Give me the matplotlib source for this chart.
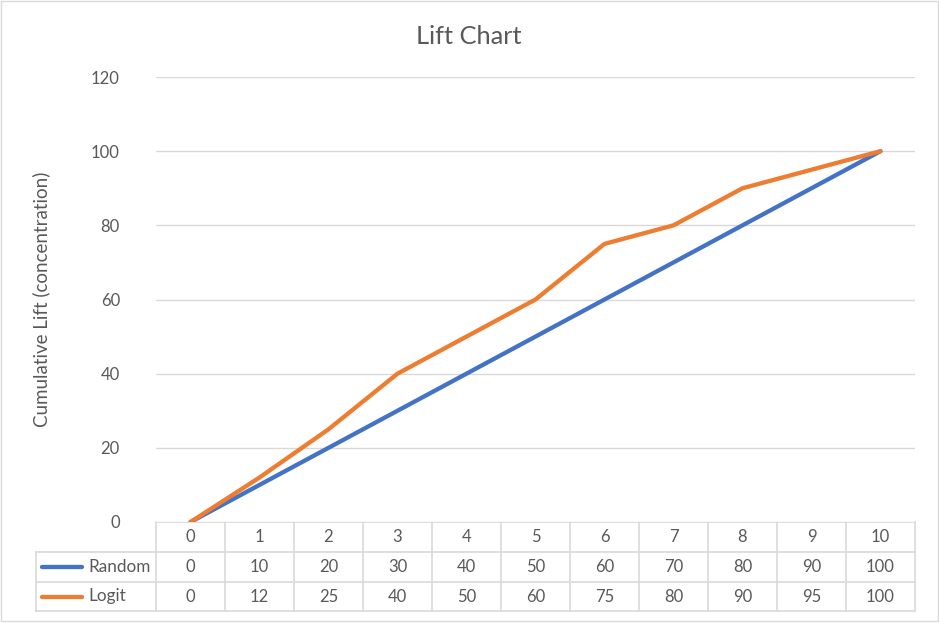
import matplotlib.pyplot as plt
from matplotlib.lines import Line2D

# datos
deciles = [0, 1, 2, 3, 4, 5, 6, 7, 8, 9, 10]
random_lift = [0, 10, 20, 30, 40, 50, 60, 70, 80, 90, 100]
logit_lift = [0, 12, 25, 40, 50, 60, 75, 80, 90, 95, 100]
series_names = ['Random', 'Logit']
y_ticks = [0, 20, 40, 60, 80, 100, 120]

blue = '#4472C4'
orange = '#ED7D31'
txt = '#595959'
grid = '#D9D9D9'

plt.rcParams['font.family'] = ['Lato', 'DejaVu Sans']

W, H = 939, 623
fig = plt.figure(figsize=(W / 100, H / 100), dpi=100)

# area del grafico en pixeles
left, right, top, bottom = 156, 915, 77, 522
ax = fig.add_axes([left / W, 1 - bottom / H, (right - left) / W, (bottom - top) / H])
ax.plot(deciles, random_lift, color=blue, linewidth=3.1, solid_capstyle='round', zorder=3)
ax.plot(deciles, logit_lift, color=orange, linewidth=3.1, solid_capstyle='round', zorder=4)
ax.set_xlim(-0.5, len(deciles) - 0.5)
ax.set_ylim(0, 120)
ax.set_yticks(y_ticks)
ax.set_xticks([])
ax.tick_params(axis='y', length=0, pad=26, labelsize=12, labelcolor=txt)
ax.grid(axis='y', color=grid, linewidth=1)
ax.set_axisbelow(True)
for s in ax.spines.values():
    s.set_visible(False)
ax.set_ylabel('Cumulative Lift (concentration)', fontsize=13.5, color=txt)
ax.yaxis.set_label_coords(-(left - 50) / (right - left), 0.5)

# tabla de datos
tab = fig.add_axes([0, 0, 1, 1], zorder=-1)
tab.set_xlim(0, W)
tab.set_ylim(H, 0)
tab.axis('off')

n = len(deciles)
cw = (right - left) / n
rows = [522, 552, 582, 611]
lab_left = 36

def hline(y, x0, x1):
    tab.add_line(Line2D([x0, x1], [y, y], color=grid, linewidth=1.2))

def vline(x, y0, y1):
    tab.add_line(Line2D([x, x], [y0, y1], color=grid, linewidth=1.2))

hline(rows[0], left, right)
for y in rows[1:]:
    hline(y, lab_left, right)
vline(lab_left, rows[1], rows[3])
for k in range(n + 1):
    vline(left + k * cw, rows[0], rows[3])

for i, d in enumerate(deciles):
    cx = left + (i + 0.5) * cw
    tab.text(cx, (rows[0] + rows[1]) / 2, str(d), ha='center', va='center', fontsize=12, color=txt)
    tab.text(cx, (rows[1] + rows[2]) / 2, str(random_lift[i]), ha='center', va='center', fontsize=12, color=txt)
    tab.text(cx, (rows[2] + rows[3]) / 2, str(logit_lift[i]), ha='center', va='center', fontsize=12, color=txt)

for j, (name, col) in enumerate(zip(series_names, [blue, orange])):
    cy = (rows[j + 1] + rows[j + 2]) / 2
    tab.add_line(Line2D([42, 82], [cy, cy], color=col, linewidth=3.1, solid_capstyle='round'))
    tab.text(88, cy, name, ha='left', va='center', fontsize=12.3, color=txt)

# borde exterior
tab.add_patch(plt.Rectangle((0.5, 0.5), W - 2, H - 3, fill=False, edgecolor='#D9D9D9', linewidth=1))

fig.text(469 / W, 1 - 37 / H, 'Lift Chart', ha='center', va='center', fontsize=18.3, color=txt)

fig.savefig('out.png', dpi=100, facecolor='white')
